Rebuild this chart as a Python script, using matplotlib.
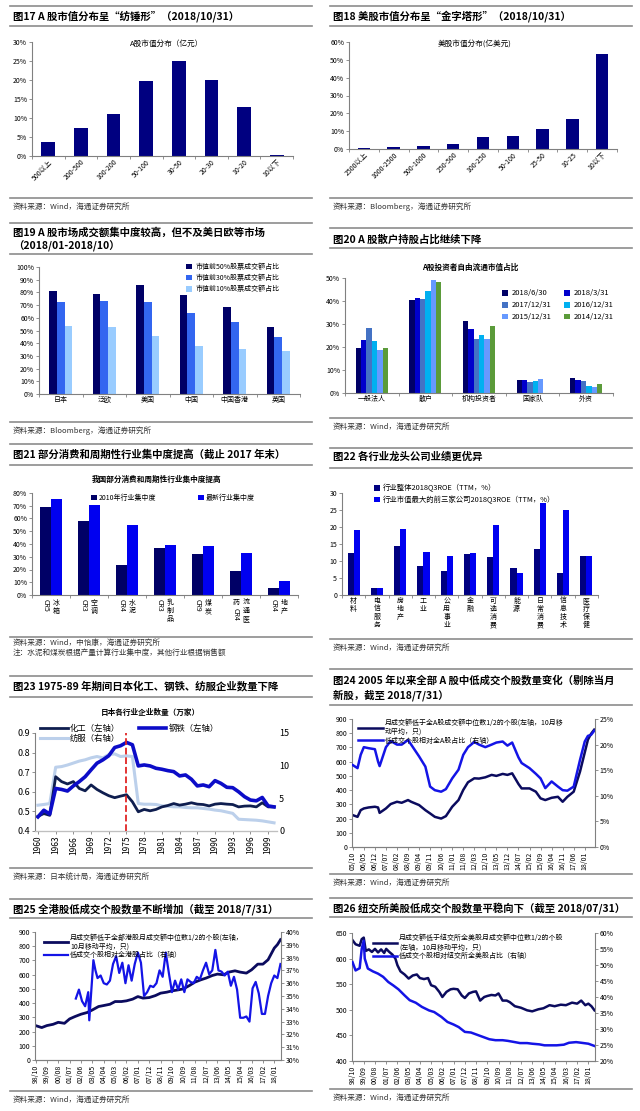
"""
Ten-panel research-report page: market cap distributions, concentration bars
and low-turnover stock counts.
"""
import re
import matplotlib
matplotlib.use('Agg')
import matplotlib.pyplot as plt
from matplotlib.lines import Line2D
from matplotlib.ticker import FuncFormatter, MultipleLocator

plt.rcParams['font.family'] = ['Noto Sans CJK SC', 'DejaVu Sans']
plt.rcParams['axes.unicode_minus'] = False

W, H = 640, 1111
GRAY = '#808080'
NAVY = '#000080'
DARK = '#0B0B5E'
BLUE = '#1414E6'

# ---------------- data ----------------
p17_cats = ['500以上', '200-500', '100-200', '50-100', '30-50', '20-30', '10-20', '10以下']
p17_vals = [3.8, 7.5, 11.0, 19.7, 24.9, 20.0, 13.0, 0.2]

p18_cats = ['2500以上', '1000-2500', '500-1000', '250-500', '100-250', '50-100', '25-50', '10-25', '10以下']
p18_vals = [0.6, 1.4, 1.6, 3.0, 6.9, 7.2, 11.0, 16.8, 53.5]

p19_cats = ['日本', '泛欧', '美国', '中国', '中国香港', '英国']
p19_top50 = [81.2, 78.5, 85.6, 77.7, 68.3, 52.6]
p19_top30 = [72.5, 73.6, 72.3, 64.1, 56.8, 45.0]
p19_top10 = [53.7, 52.9, 45.5, 37.7, 35.3, 34.0]
p19_names = ['市值前50%股票成交额占比', '市值前30%股票成交额占比', '市值前10%股票成交额占比']

p20_cats = ['一般法人', '散户', '机构投资者', '国家队', '外资']
p20_names = ['2018/6/30', '2018/3/31', '2017/12/31', '2016/12/31', '2015/12/31', '2014/12/31']
p20_d1 = [19.7, 40.4, 31.2, 5.8, 6.4]
p20_d2 = [22.9, 41.1, 27.8, 5.8, 5.7]
p20_d3 = [28.4, 40.8, 23.6, 4.8, 5.4]
p20_d4 = [22.6, 44.3, 25.1, 5.2, 3.2]
p20_d5 = [18.8, 49.3, 23.6, 6.0, 2.6]
p20_d6 = [19.7, 48.1, 29.2, 0.0, 3.9]

p21_cats = ['冰箱CR5', '空调CR3', '水泥CR4', '乳制品CR3', '煤炭CR9', '流通医药CR4', '地产CR4']
p21_2010 = [69.0, 58.1, 23.4, 36.5, 32.0, 18.8, 5.7]
p21_now = [75.0, 70.8, 54.7, 39.0, 38.3, 32.6, 11.2]

p22_cats = ['材料', '电信服务', '房地产', '工业', '公用事业', '金融', '可选消费', '能源', '日常消费', '信息技术', '医疗保健']
p22_all = [12.4, 2.15, 14.4, 8.5, 7.0, 12.1, 11.2, 7.9, 13.5, 6.5, 11.6]
p22_top3 = [19.1, 1.95, 19.5, 12.7, 11.5, 12.3, 20.7, 6.5, 27.2, 24.9, 11.4]

p23_years = list(range(1960, 2001))
p23_chem = [0.475, 0.489, 0.48, 0.677, 0.652, 0.64, 0.652, 0.617, 0.605, 0.635,
            0.612, 0.595, 0.58, 0.57, 0.578, 0.585, 0.549, 0.498, 0.51, 0.503,
            0.51, 0.523, 0.53, 0.54, 0.532, 0.537, 0.544, 0.537, 0.535, 0.528,
            0.537, 0.54, 0.537, 0.535, 0.523, 0.527, 0.528, 0.523, 0.544, 0.523, 0.523]
p23_steel = [0.472, 0.506, 0.486, 0.617, 0.612, 0.604, 0.63, 0.652, 0.677, 0.712,
             0.746, 0.763, 0.784, 0.826, 0.835, 0.852, 0.84, 0.732, 0.737, 0.732,
             0.72, 0.715, 0.708, 0.703, 0.681, 0.686, 0.664, 0.63, 0.635, 0.626,
             0.657, 0.643, 0.623, 0.621, 0.6, 0.575, 0.558, 0.554, 0.571, 0.528, 0.523]
p23_textile = [3.95, 4.06, 4.2, 9.76, 9.86, 10.1, 10.4, 10.7, 10.9, 11.2,
               11.4, 11.2, 11.7, 11.8, 11.4, 11.5, 11.4, 4.2, 4.1, 4.1,
               4.06, 3.85, 3.8, 3.7, 3.7, 3.6, 3.55, 3.55, 3.45, 3.35,
               3.2, 3.1, 2.9, 2.7, 1.8, 1.75, 1.7, 1.65, 1.55, 1.4, 1.25]
p23_ticks = [1960, 1963, 1966, 1969, 1972, 1975, 1978, 1981, 1984, 1987, 1990, 1993, 1996, 1999]

p24_dates = ['05/10', '06/01', '06/03', '06/05', '06/08', '06/12', '07/02', '07/03', '07/07', '07/10',
             '08/02', '08/05', '08/09', '08/11', '09/04', '09/08', '09/11', '10/02', '10/06', '10/09',
             '11/01', '11/05', '11/08', '11/11', '12/03', '12/06', '12/10', '13/02', '13/05', '13/09',
             '13/12', '14/03', '14/07', '14/09', '15/02', '15/06', '15/09', '15/12', '16/04', '16/08',
             '16/11', '17/02', '17/06', '17/10', '18/01', '18/03', '18/05', '18/07']
p24_count = [224, 212, 259, 271, 278, 283, 278, 240, 271, 302,
             318, 311, 330, 318, 295, 259, 236, 212, 200, 217,
             283, 330, 401, 455, 483, 481, 490, 507, 500, 514,
             507, 518, 443, 412, 412, 389, 342, 330, 346, 353,
             318, 353, 389, 530, 664, 754, 796, 825]
p24_ratio = [16.0, 15.4, 18.0, 19.5, 19.3, 19.1, 16.7, 15.8, 19.5, 20.7,
             20.0, 20.0, 20.9, 20.0, 17.7, 15.7, 11.8, 11.1, 10.8, 11.3,
             13.4, 15.1, 18.0, 19.5, 20.5, 20.0, 19.5, 20.0, 20.4, 20.6,
             19.8, 20.4, 17.5, 16.4, 15.4, 14.3, 13.4, 11.5, 12.8, 11.8,
             11.1, 11.0, 11.8, 17.0, 20.6, 21.7, 21.9, 22.7]
p24_ticks = ['05/10', '06/05', '06/12', '07/07', '08/02', '08/09', '09/04', '09/11', '10/06', '11/01', '11/08',
             '12/03', '12/10', '13/05', '13/12', '14/07', '15/02', '15/09', '16/04', '16/11', '17/06', '18/01']

p25_dates = ['98/10', '99/04', '99/09', '00/03', '00/08', '01/02', '01/07', '01/12', '02/06', '02/12',
             '03/05', '03/11', '04/04', '04/10', '05/03', '05/09', '06/02', '06/08', '07/01', '07/06',
             '07/12', '08/06', '08/11', '09/05', '09/10', '10/04', '10/09', '11/03', '11/08', '12/02',
             '12/07', '13/01', '13/06', '13/12', '14/05', '14/11', '15/04', '15/10', '16/03', '16/09',
             '17/02', '17/07', '18/01', '18/04', '18/07']
p25_count = [242, 228, 242, 251, 265, 258, 289, 305, 322, 334,
             352, 376, 383, 392, 411, 411, 416, 428, 446, 435,
             439, 453, 470, 477, 486, 493, 500, 524, 547, 564,
             576, 594, 604, 599, 618, 627, 618, 611, 634, 674,
             674, 705, 787, 811, 846]
p25_ratio_dates = ['02/01', '02/04', '02/07', '02/10', '03/01', '03/02', '03/06', '03/08', '03/10',
                   '04/01', '04/04', '04/07', '04/10', '05/01', '05/04', '05/07', '05/10',
                   '06/01', '06/04', '06/07', '06/10', '07/01', '07/04', '07/07', '07/10',
                   '08/01', '08/04', '08/07', '08/10', '09/01', '09/04', '09/07', '09/10',
                   '10/01', '10/04', '10/07', '10/10', '11/01', '11/04', '11/07', '11/10',
                   '12/01', '12/04', '12/07', '12/10', '13/01', '13/04', '13/07', '13/10',
                   '14/01', '14/04', '14/07', '14/10', '15/01', '15/04', '15/07', '15/10',
                   '16/01', '16/04', '16/07', '16/10', '17/01', '17/04', '17/07', '17/10',
                   '18/01', '18/04', '18/07']
p25_ratio = [34.8, 35.5, 34.6, 34.2, 35.3, 33.1, 37.8, 37.0, 36.4,
             36.6, 36.0, 35.9, 36.2, 37.5, 38.1, 36.8, 37.6,
             36.0, 37.4, 36.2, 37.5, 38.4, 37.6, 35.0, 35.3,
             35.8, 35.7, 36.0, 37.0, 36.5, 38.4, 36.8, 35.3,
             36.2, 35.5, 36.3, 35.3, 36.3, 36.1, 36.0, 36.5,
             36.3, 37.0, 37.6, 36.7, 37.0, 38.6, 37.0, 36.9,
             36.6, 36.9, 35.8, 36.5, 35.5, 33.3, 33.3, 33.4,
             33.0, 35.6, 36.1, 35.2, 33.6, 33.6, 35.0, 36.0,
             36.6, 36.4, 37.5]
p25_ticks = ['98/10', '99/09', '00/08', '01/07', '02/06', '03/05', '04/04', '05/03', '06/02', '07/01', '07/12',
             '08/11', '09/10', '10/09', '11/08', '12/07', '13/06', '14/05', '15/04', '16/03', '17/02', '18/01']

p26_dates = ['98/10', '99/01', '99/05', '99/07', '99/09', '99/11', '00/02', '00/05', '00/08', '00/11',
             '01/02', '01/05', '01/07', '01/10', '02/01', '02/04', '02/06', '02/09', '03/01', '03/05',
             '03/09', '04/01', '04/04', '04/08', '04/12', '05/03', '05/07', '05/11', '06/02', '06/06',
             '06/10', '07/01', '07/05', '07/09', '07/12', '08/04', '08/08', '08/11', '09/03', '09/07',
             '09/10', '10/02', '10/06', '10/09', '11/01', '11/05', '11/08', '12/01', '12/07', '13/01',
             '13/06', '13/12', '14/05', '14/11', '15/04', '15/10', '16/03', '16/09', '17/02', '17/06',
             '17/10', '18/01', '18/04', '18/07']
p26_count = [636, 628, 625, 638, 641, 615, 618, 613, 619, 612,
             618, 611, 619, 613, 608, 600, 587, 575, 569, 561,
             567, 569, 562, 560, 562, 548, 545, 535, 525, 535,
             540, 541, 540, 528, 523, 532, 535, 536, 518, 525,
             527, 529, 528, 532, 518, 518, 515, 507, 504, 499,
             497, 501, 503, 509, 507, 510, 509, 514, 512, 518,
             509, 512, 507, 499]
p26_ratio_dates = ['98/10', '99/01', '99/05', '99/07', '99/09', '99/10', '00/01', '00/06', '00/11',
                   '01/04', '01/09', '02/02', '02/07', '03/01', '03/06', '03/12', '04/06', '05/01',
                   '05/06', '06/01', '06/07', '07/01', '07/06', '07/12', '08/06', '08/12', '09/06',
                   '09/12', '10/06', '11/01', '11/06', '12/01', '12/06', '13/01', '13/06', '14/01',
                   '14/06', '15/01', '15/06', '16/01', '16/06', '17/01', '17/06', '18/01', '18/07']
p26_ratio = [50.9, 48.3, 49.0, 55.0, 57.6, 52.0, 48.9, 48.0, 47.3,
             46.3, 44.7, 43.6, 42.4, 40.5, 39.0, 38.2, 36.9, 35.8,
             35.3, 33.8, 32.2, 31.4, 30.6, 29.1, 28.9, 28.2, 27.5,
             26.8, 26.5, 26.5, 26.3, 25.9, 25.6, 25.6, 25.4, 25.2,
             24.9, 24.9, 24.9, 25.1, 25.7, 25.9, 25.7, 25.4, 24.7]
p26_ticks = p25_ticks


# ---------------- helpers ----------------
fig = plt.figure(figsize=(6.4, 11.11), dpi=100)


def fx(x):
    return x / W


def fy(y):
    return 1 - y / H


def add_ax(x0, y0, x1, y1):
    return fig.add_axes([fx(x0), fy(y1), (x1 - x0) / W, (y1 - y0) / H])


def hline(x0, x1, y, lw=1.2):
    fig.add_artist(Line2D([fx(x0), fx(x1)], [fy(y), fy(y)], color='#8c8c8c', lw=lw))


def frame(x0, x1, top, titles, under, bottom, sources):
    hline(x0, x1, top)
    for text, y in titles:
        fig.text(fx(x0 + 3), fy(y), text, fontsize=7.5, fontweight='bold', va='center')
    hline(x0, x1, under)
    hline(x0, x1, bottom)
    for text, y in sources:
        fig.text(fx(x0 + 3), fy(y), text, fontsize=5.5, va='center', color='#333333')


def style(ax, size=5):
    ax.spines['top'].set_visible(False)
    ax.spines['right'].set_visible(False)
    for s in ax.spines.values():
        s.set_color(GRAY)
        s.set_linewidth(0.8)
    ax.tick_params(labelsize=size, length=2, width=0.6, color=GRAY, pad=1.5)


def pct(ax, dec=0):
    ax.yaxis.set_major_formatter(FuncFormatter(lambda v, _: f'{v:.{dec}f}%'))


def cat_axis(ax, n):
    ax.set_xlim(-0.5, n - 0.5)
    ax.set_xticks(range(n))
    ax.set_xticks([i - 0.5 for i in range(n + 1)], minor=True)
    ax.tick_params(axis='x', which='major', length=0)
    ax.tick_params(axis='x', which='minor', length=2, width=0.6, color=GRAY)


def midx(s):
    yy, mm = s.split('/')
    y = int(yy)
    y += 2000 if y < 50 else 1900
    return y * 12 + int(mm) - 1


def date_axis(ax, dates, ticks):
    ax.set_xlim(midx(dates[0]) - 0.5, midx(dates[-1]) + 0.5)
    ax.set_xticks([midx(t) for t in ticks])
    ax.set_xticklabels(ticks, rotation=90, fontsize=5)


def grouped(ax, series, colors, width):
    n = len(series)
    for k, (vals, c) in enumerate(zip(series, colors)):
        off = (k - (n - 1) / 2) * width
        ax.bar([i + off for i in range(len(vals))], vals, width, color=c, linewidth=0)


# ---------------- 图17 ----------------
frame(10, 312, 6, [('图17 A 股市值分布呈“纺锤形”（2018/10/31）', 16)], 26, 198,
      [('资料来源：Wind，海通证券研究所', 207)])
ax = add_ax(32, 42, 293, 156)
style(ax)
ax.bar(range(len(p17_vals)), p17_vals, 0.42, color=NAVY)
cat_axis(ax, len(p17_cats))
ax.set_xticklabels(p17_cats, rotation=45, ha='right', rotation_mode='anchor')
ax.set_ylim(0, 30)
ax.yaxis.set_major_locator(MultipleLocator(5))
pct(ax)
fig.text(fx(167), fy(44), 'A股市值分布（亿元）', fontsize=5.5, ha='center', va='center')

# ---------------- 图18 ----------------
frame(330, 632, 6, [('图18 美股市值分布呈“金字塔形”（2018/10/31）', 16)], 26, 198,
      [('资料来源：Bloomberg，海通证券研究所', 207)])
ax = add_ax(349, 42, 617, 149)
style(ax)
ax.bar(range(len(p18_vals)), p18_vals, 0.42, color=NAVY)
cat_axis(ax, len(p18_cats))
ax.set_xticklabels(p18_cats, rotation=45, ha='right', rotation_mode='anchor')
ax.set_ylim(0, 60)
ax.yaxis.set_major_locator(MultipleLocator(10))
pct(ax)
fig.text(fx(475), fy(44), '美股市值分布(亿美元)', fontsize=5.5, ha='center', va='center')

# ---------------- 图19 ----------------
frame(10, 312, 223, [('图19 A 股市场成交额集中度较高，但不及美日欧等市场', 232),
                     ('（2018/01-2018/10）', 246)], 254, 422,
      [('资料来源：Bloomberg，海通证券研究所', 431)])
ax = add_ax(39, 267, 300, 394)
style(ax)
grouped(ax, [p19_top50, p19_top30, p19_top10], ['#000066', '#3366F0', '#99CCFF'], 0.18)
cat_axis(ax, len(p19_cats))
ax.set_xticklabels(p19_cats)
ax.set_ylim(0, 100)
ax.yaxis.set_major_locator(MultipleLocator(10))
pct(ax)
ax.legend(ax.patches[::len(p19_cats)], p19_names, loc='upper left', bbox_to_anchor=(0.54, 1.08),
          frameon=False, fontsize=5, handlelength=0.8, handleheight=0.8, labelspacing=0.45,
          handletextpad=0.5)

# ---------------- 图20 ----------------
frame(330, 632, 228, [('图20 A 股散户持股占比继续下降', 240)], 248, 418,
      [('资料来源：Wind，海通证券研究所', 427)])
ax = add_ax(345, 278, 613, 393)
style(ax)
p20_colors = ['#000066', '#0000CC', '#4472C4', '#00B0F0', '#6699FF', '#5B9B3A']
grouped(ax, [p20_d1, p20_d2, p20_d3, p20_d4, p20_d5, p20_d6], p20_colors, 0.1)
cat_axis(ax, len(p20_cats))
ax.set_xticklabels(p20_cats)
ax.set_ylim(0, 50)
ax.yaxis.set_major_locator(MultipleLocator(10))
pct(ax)
bars = ax.patches[::len(p20_cats)]
order = [0, 2, 4, 1, 3, 5]
ax.legend([bars[i] for i in order], [p20_names[i] for i in order], ncol=2, loc='upper left',
          bbox_to_anchor=(0.56, 0.96), frameon=False, fontsize=5.5, handlelength=0.8,
          handleheight=0.8, labelspacing=0.5, columnspacing=1.6, handletextpad=0.5)
fig.text(fx(470), fy(267), 'A股投资者自由流通市值占比', fontsize=5.5, fontweight='bold',
         ha='center', va='center')

# ---------------- 图21 ----------------
frame(10, 312, 444, [('图21 部分消费和周期性行业集中度提高（截止 2017 年末）', 455)], 465, 637,
      [('资料来源：Wind，中怡康，海通证券研究所', 643),
       ('注：水泥和煤炭根据产量计算行业集中度，其他行业根据销售额', 653)])
ax = add_ax(32, 493, 298, 595)
style(ax)
grouped(ax, [p21_2010, p21_now], ['#000066', '#0000F0'], 0.29)
cat_axis(ax, len(p21_cats))
ax.set_xticklabels([''] * len(p21_cats))
ax.set_ylim(0, 80)
ax.yaxis.set_major_locator(MultipleLocator(10))
pct(ax)
trans = ax.get_xaxis_transform()
for i, lab in enumerate(p21_cats):
    m = re.match(r'([^\x00-\x7f]+)(.*)', lab)
    cjk, code = m.group(1), m.group(2)
    ax.annotate('\n'.join(cjk[:3]), (i, 0), xycoords=trans, xytext=(3.6, -3),
                textcoords='offset points', ha='center', va='top', fontsize=5, linespacing=1.0)
    off = -3
    if cjk[3:]:
        ax.annotate('\n'.join(cjk[3:]), (i, 0), xycoords=trans, xytext=(-3.6, off),
                    textcoords='offset points', ha='center', va='top', fontsize=5, linespacing=1.0)
        off -= 6 * len(cjk[3:])
    ax.annotate(code, (i, 0), xycoords=trans, xytext=(-3.6, off), textcoords='offset points',
                ha='center', va='top', fontsize=5, rotation=-90)
bars = ax.patches[::len(p21_cats)]
ax.legend(bars, ['2010年行业集中度', '最新行业集中度'], ncol=2, loc='upper left',
          bbox_to_anchor=(0.2, 1.05), frameon=False, fontsize=5, handlelength=0.8,
          handleheight=0.8, columnspacing=6, handletextpad=0.3)
fig.text(fx(157), fy(479), '我国部分消费和周期性行业集中度提高', fontsize=5.5, fontweight='bold',
         ha='center', va='center')

# ---------------- 图22 ----------------
frame(330, 632, 448, [('图22 各行业龙头公司业绩更优异', 457)], 468, 639,
      [('资料来源：Wind，海通证券研究所', 648)])
ax = add_ax(342, 493, 598, 595)
style(ax)
grouped(ax, [p22_all, p22_top3], ['#000080', '#0000F0'], 0.26)
cat_axis(ax, len(p22_cats))
ax.set_xticklabels(['\n'.join(c) for c in p22_cats], linespacing=1.0)
ax.set_ylim(0, 30)
ax.yaxis.set_major_locator(MultipleLocator(5))
bars = ax.patches[::len(p22_cats)]
ax.legend(bars, ['行业整体2018Q3ROE（TTM，%）', '行业市值最大的前三家公司2018Q3ROE（TTM，%）'],
          loc='upper left', bbox_to_anchor=(0.1, 1.15), frameon=False, fontsize=5.3,
          handlelength=0.8, handleheight=0.8, labelspacing=0.4, handletextpad=0.4)

# ---------------- 图23 ----------------
frame(10, 312, 676, [('图23 1975-89 年期间日本化工、钢铁、纺服企业数量下降', 686)], 697, 868,
      [('资料来源：日本统计局，海通证券研究所', 878)])
ax = add_ax(35, 733, 277, 831)
style(ax, 6.5)
ax.spines['bottom'].set_color('#bfbfbf')
ax2 = ax.twinx()
style(ax2, 6.5)
ax2.spines['left'].set_visible(False)
x23 = list(range(len(p23_years)))
h3, = ax2.plot(x23, p23_textile, color='#BCD0EB', lw=2.2)
h1, = ax.plot(x23, p23_chem, color='#0F1E4F', lw=2.0)
h2, = ax.plot(x23, p23_steel, color='#0C0CC8', lw=2.6)
ax.axvline(p23_years.index(1975), color='#E02424', ls='--', lw=1.3)
ax.set_zorder(ax2.get_zorder() + 1)
ax.patch.set_visible(False)
ax.set_ylim(0.4, 0.9)
ax.yaxis.set_major_locator(MultipleLocator(0.1))
ax.yaxis.set_major_formatter(FuncFormatter(lambda v, _: f'{v:.1f}'))
ax2.set_ylim(0, 15)
ax2.yaxis.set_major_locator(MultipleLocator(5))
ax2.tick_params(axis='y', length=0)
ax.set_xlim(-0.5, len(x23) - 0.5)
ax.set_xticks([p23_years.index(y) for y in p23_ticks])
ax.set_xticklabels([str(y) for y in p23_ticks], rotation=90, fontsize=6)
ax.legend([h1, h3, h2], ['化工（左轴）', '纺服（右轴）', '钢铁（左轴）'], ncol=2, loc='upper left',
          bbox_to_anchor=(-0.01, 1.17), frameon=False, fontsize=6, handlelength=3.3,
          labelspacing=0.1, columnspacing=2.2, handletextpad=0.3)
fig.text(fx(150), fy(712), '日本各行业企业数量（万家）', fontsize=5.5, fontweight='bold',
         ha='center', va='center')

# ---------------- 图24 ----------------
frame(330, 632, 669, [('图24 2005 年以来全部 A 股中低成交个股数量变化（剔除当月', 680),
                      ('新股，截至 2018/7/31）', 695)], 705, 874,
      [('资料来源：Wind，海通证券研究所', 883)])
ax = add_ax(352, 719, 595, 847)
style(ax)
ax2 = ax.twinx()
style(ax2)
ax2.spines['right'].set_visible(True)
ax2.spines['left'].set_visible(False)
h1, = ax.plot([midx(d) for d in p24_dates], p24_count, color=DARK, lw=1.8)
h2, = ax2.plot([midx(d) for d in p24_dates], p24_ratio, color=BLUE, lw=1.8)
ax.set_ylim(0, 900)
ax.yaxis.set_major_locator(MultipleLocator(100))
ax2.set_ylim(0, 25)
ax2.yaxis.set_major_locator(MultipleLocator(5))
pct(ax2)
date_axis(ax, p24_dates, p24_ticks)
ax2.legend([h1, h2], ['月成交额低于全A股成交额中位数1/2的个股(左轴，10月移\n动平均，只)',
                      '低成交个股相对全A股占比（右轴）'],
           loc='upper left', bbox_to_anchor=(0.0, 1.05), frameon=False, fontsize=5,
           handlelength=3.5, labelspacing=0.1, handletextpad=0.3)

# ---------------- 图25 ----------------
frame(10, 312, 899, [('图25 全港股低成交个股数量不断增加（截至 2018/7/31）', 909)], 918, 1091,
      [('资料来源：Wind，海通证券研究所', 1100)])
ax = add_ax(35, 932, 281, 1060)
style(ax)
ax2 = ax.twinx()
style(ax2)
ax2.spines['right'].set_visible(True)
ax2.spines['left'].set_visible(False)
h1, = ax.plot([midx(d) for d in p25_dates], p25_count, color=DARK, lw=2.0)
h2, = ax2.plot([midx(d) for d in p25_ratio_dates], p25_ratio, color=BLUE, lw=1.6)
ax.set_ylim(0, 900)
ax.yaxis.set_major_locator(MultipleLocator(100))
ax2.set_ylim(30, 40)
ax2.yaxis.set_major_locator(MultipleLocator(1))
pct(ax2)
date_axis(ax, p25_dates, p25_ticks)
ax2.legend([h1, h2], ['月成交额低于全部港股月成交额中位数1/2的个股(左轴，\n10月移动平均，只)',
                      '低成交个股相对全港股占比（右轴）'],
           loc='upper left', bbox_to_anchor=(0.01, 1.04), frameon=False, fontsize=5,
           handlelength=3.5, labelspacing=0.1, handletextpad=0.3)

# ---------------- 图26 ----------------
frame(330, 632, 898, [('图26 纽交所美股低成交个股数量平稳向下（截至 2018/07/31）', 908)], 917, 1089,
      [('资料来源：Wind，海通证券研究所', 1098)])
ax = add_ax(352, 933, 595, 1061)
style(ax)
ax2 = ax.twinx()
style(ax2)
ax2.spines['right'].set_visible(True)
ax2.spines['left'].set_visible(False)
h1, = ax.plot([midx(d) for d in p26_dates], p26_count, color=DARK, lw=1.8)
h2, = ax2.plot([midx(d) for d in p26_ratio_dates], p26_ratio, color=BLUE, lw=1.8)
ax.set_ylim(400, 650)
ax.yaxis.set_major_locator(MultipleLocator(50))
ax2.set_ylim(20, 60)
ax2.yaxis.set_major_locator(MultipleLocator(5))
pct(ax2)
date_axis(ax, p26_dates, p26_ticks)
ax2.legend([h1, h2], ['月成交额低于纽交所全美股月成交额中位数1/2的个股\n(左轴，10月移动平均，只)',
                      '低成交个股相对纽交所全美股占比（右轴）'],
           loc='upper left', bbox_to_anchor=(0.06, 1.04), frameon=False, fontsize=5,
           handlelength=3.5, labelspacing=0.1, handletextpad=0.3)

fig.savefig('out.png', dpi=100)
